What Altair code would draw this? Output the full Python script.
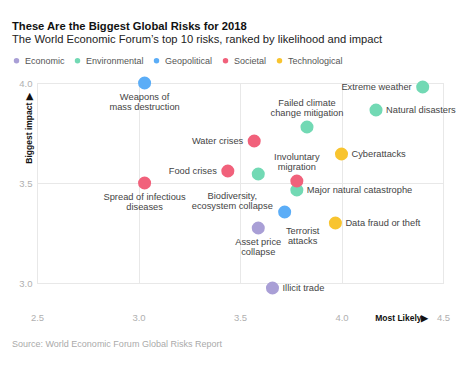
import altair as alt
import pandas as pd

names = ["Weapons of mass destruction", "Water crises", "Food crises",
         "Spread of infectious diseases", "Biodiversity, ecosystem collapse",
         "Failed climate change mitigation", "Extreme weather", "Natural disasters",
         "Cyberattacks", "Major natural catastrophe", "Involuntary migration",
         "Terrorist attacks", "Data fraud or theft", "Asset price collapse", "Illicit trade"]
labels = ["Weapons of\nmass destruction", "Water crises", "Food crises",
          "Spread of infectious\ndiseases", "Biodiversity,\necosystem collapse",
          "Failed climate\nchange mitigation", "Extreme weather", "Natural disasters",
          "Cyberattacks", "Major natural catastrophe", "Involuntary\nmigration",
          "Terrorist\nattacks", "Data fraud or theft", "Asset price\ncollapse", "Illicit trade"]
likelihood = [3.03, 3.57, 3.44, 3.03, 3.59, 3.83, 4.40, 4.17, 4.00, 3.78, 3.78, 3.72, 3.97, 3.59, 3.66]
impact = [4.00, 3.71, 3.56, 3.50, 3.545, 3.78, 3.98, 3.865, 3.645, 3.465, 3.51, 3.355, 3.30, 3.275, 2.975]
category = ["Geopolitical", "Societal", "Societal", "Societal", "Environmental",
            "Environmental", "Environmental", "Environmental", "Technological", "Environmental",
            "Societal", "Geopolitical", "Technological", "Economic", "Economic"]
label_pos = ["below", "left", "left", "below", "belowleft", "above", "left", "right",
             "right", "right", "above", "belowright", "right", "below", "right"]

cat_names = ["Economic", "Environmental", "Geopolitical", "Societal", "Technological"]
cat_colors = ["#a99fd6", "#72d9b4", "#5badf7", "#f1617b", "#f8c42f"]

x_ticks = [2.5, 3.0, 3.5, 4.0, 4.5]
y_ticks = [3.0, 3.5, 4.0]

title_text = "These Are the Biggest Global Risks for 2018"
subtitle_text = "The World Economic Forum\u2019s top 10 risks, ranked by likelihood and impact"
source_text = "Source: World Economic Forum Global Risks Report"

df = pd.DataFrame({"name": names, "label": labels, "likelihood": likelihood,
                   "impact": impact, "category": category, "pos": label_pos})

FONT = "Liberation Sans"

xenc = alt.X("likelihood:Q", scale=alt.Scale(domain=[2.5, 4.5], nice=False, zero=False),
             axis=alt.Axis(values=x_ticks, format=".1f", title="Most Likely\u25B6",
                           titleX=391, titleY=34, titleAlign="right", titleBaseline="middle",
                           titleFontWeight="bold", titleFontSize=8.5, titleColor="#111",
                           titleFont=FONT, labelFont=FONT,
                           labelPadding=29, labelColor="#b0b0b0", labelFontSize=9.5,
                           labelFlush=False, domain=False, ticks=False, gridColor="#e8e8e8"))
yenc = alt.Y("impact:Q", scale=alt.Scale(domain=[3.0, 4.0], nice=False, zero=False),
             axis=alt.Axis(values=y_ticks, format=".1f", title="Biggest impact \u25B6",
                           titleX=-9, titleY=45, titleAngle=270, titleAlign="center",
                           titleBaseline="middle", titleFontWeight="bold", titleFontSize=8.5,
                           titleColor="#111", titleFont=FONT, labelFont=FONT,
                           labelPadding=5, labelColor="#b0b0b0", labelFontSize=9.5,
                           domain=False, ticks=False, gridColor="#e8e8e8"))

base = alt.Chart(df)

points = base.mark_circle(size=170, opacity=1).encode(
    x=xenc, y=yenc,
    color=alt.Color("category:N", scale=alt.Scale(domain=cat_names, range=cat_colors),
                    legend=alt.Legend(orient="none", legendX=-25, legendY=-27,
                                      direction="horizontal", title=None, symbolType="circle",
                                      symbolSize=30, labelFontSize=9, labelColor="#555",
                                      labelFont=FONT, columnPadding=8, labelOffset=4,
                                      symbolStrokeWidth=0, symbolOpacity=1, padding=0)),
)

def lab(pos, **kw):
    return base.transform_filter(alt.datum.pos == pos).mark_text(
        font=FONT, fontSize=9.3, color="#444", lineBreak="\n", lineHeight=9.5, **kw
    ).encode(x="likelihood:Q", y="impact:Q", text="label:N")

labs = [
    lab("left", align="right", baseline="middle", dx=-11),
    lab("right", align="left", baseline="middle", dx=10),
    lab("below", align="center", baseline="top", dy=10),
    lab("above", align="center", baseline="bottom", dy=-19),
    lab("belowleft", align="center", baseline="top", dx=-26, dy=18),
    lab("belowright", align="center", baseline="top", dx=18, dy=15),
]

one = pd.DataFrame({"t": [title_text], "s": [subtitle_text], "src": [source_text]})
title = alt.Chart(one).mark_text(font=FONT, fontSize=11.2, fontWeight="bold", color="#111",
                                 align="left", baseline="alphabetic").encode(
    text="t:N", x=alt.value(-25), y=alt.value(-53.5))
subtitle = alt.Chart(one).mark_text(font=FONT, fontSize=11.2, color="#222",
                                    align="left", baseline="alphabetic").encode(
    text="s:N", x=alt.value(-25), y=alt.value(-40))
source = alt.Chart(one).mark_text(font=FONT, fontSize=9, color="#aaa",
                                  align="left", baseline="alphabetic").encode(
    text="src:N", x=alt.value(-25), y=alt.value(264))

chart = alt.layer(points, *labs, title, subtitle, source).properties(
    width=406, height=200,
    autosize=alt.AutoSizeParams(type="none"),
    padding={"left": 29, "top": 75, "right": 20, "bottom": 70},
).configure_view(stroke=None).configure(background="white")

chart.save("out.html", embed_options={"renderer": "svg", "actions": False})
